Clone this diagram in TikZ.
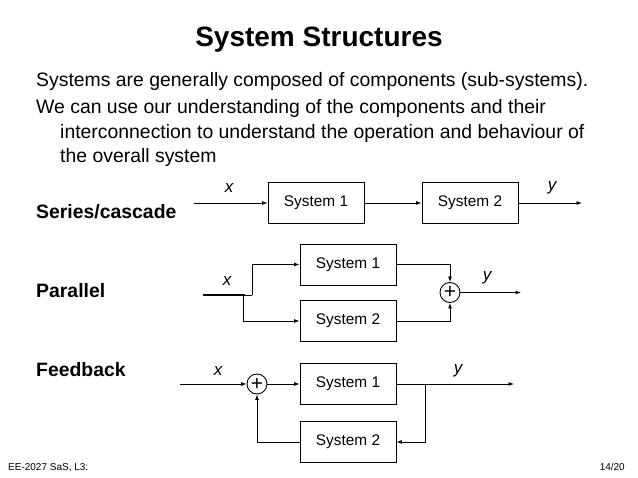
\documentclass[tikz,border=0pt]{standalone}
\usepackage{fontspec}
\setmainfont{Liberation Sans}
\usetikzlibrary{arrows.meta,positioning,calc}

\begin{document}
\begin{tikzpicture}[x=1pt,y=-1pt,>={Latex[length=5.5pt,width=4pt]},
  sysbox/.style={draw,line width=0.9pt,minimum width=96pt,minimum height=41pt,inner sep=0pt,font=\fontsize{15.4}{18}\selectfont},
  sumnode/.style={draw,circle,line width=0.9pt,minimum size=20pt,inner sep=0pt,font=\fontsize{21}{21}\selectfont},
  sig/.style={font=\fontsize{17}{20}\selectfont\itshape},
  hdr/.style={anchor=base west,inner sep=0pt,font=\fontsize{19.4}{23}\selectfont\bfseries},
  body/.style={anchor=base west,inner sep=0pt,font=\fontsize{19.4}{23}\selectfont},
  foot/.style={inner sep=0pt,font=\fontsize{10}{12}\selectfont},
  wire/.style={line width=0.9pt}]
\useasboundingbox (0,0) rectangle (638,478);

% title and text
\node[anchor=base,inner sep=0pt,font=\fontsize{28}{32}\selectfont\bfseries] (title) at (319,47) {System Structures};
\node[body] (l1) at (36,87) {Systems are generally composed of components (sub-systems).};
\node[body] (l2) at (36,114) {We can use our understanding of the components and their};
\node[body] (l3) at (60,139) {interconnection to understand the operation and behaviour of};
\node[body] (l4) at (60,163) {the overall system};

% series
\node[hdr] (series) at (36,219) {Series/cascade};
\coordinate (sIn) at (194,203);
\node[sysbox] (sA) at (316,203) {System 1};
\node[sysbox] (sB) at (470,203) {System 2};
\coordinate (sOut) at (582,203);
\draw[wire,->] (sIn) -- (sA);
\draw[wire,->] (sA) -- (sB);
\draw[wire,->] (sB) -- (sOut);
\node[sig] (sX) at (229,188) {x};
\node[sig] (sY) at (552,188) {y};

% parallel
\node[hdr] (parallel) at (36,298) {Parallel};
\node[sysbox] (pA) at (348,264.5) {System 1};
\node[sysbox] (pB) at (348,321) {System 2};
\node[sumnode] (pSum) at (450,292.5) {+};
\coordinate (pIn) at (203,295);
\coordinate (pSplit) at (245,295);
\coordinate (pUp) at (252,295);
\coordinate (pDown) at (243,295);
\coordinate (pOut) at (521,292.5);
\draw[line width=1.8pt] (pIn) -- (pSplit);
\draw[wire] (pDown) -- (pUp);
\draw[wire,->] (pUp) |- (pA);
\draw[wire,->] (pDown) |- (pB);
\draw[wire,->] (pA) -| (pSum);
\draw[wire,->] (pB) -| (pSum);
\draw[wire,->] (pSum) -- (pOut);
\node[sig] (pX) at (227,281) {x};
\node[sig] (pY) at (487,278) {y};

% feedback
\node[hdr] (feedback) at (36,377) {Feedback};
\coordinate (fIn) at (180,384);
\node[sumnode] (fSum) at (257,384) {+};
\node[sysbox] (fA) at (348,384) {System 1};
\node[sysbox] (fB) at (348,442) {System 2};
\coordinate (fTap) at (425,384);
\coordinate (fOut) at (514,384);
\draw[wire,->] (fIn) -- (fSum);
\draw[wire,->] (fSum) -- (fA);
\draw[wire,->] (fA) -- (fOut);
\draw[wire,->] (fTap) |- (fB);
\draw[wire,->] (fB) -| (fSum);
\node[sig] (fX) at (218,371) {x};
\node[sig] (fY) at (458,371) {y};

% footer
\node[foot,anchor=base west] (course) at (8,471) {EE-2027 SaS, L3:};
\node[foot,anchor=base east] (page) at (625,471) {14/20};
\end{tikzpicture}
\end{document}
